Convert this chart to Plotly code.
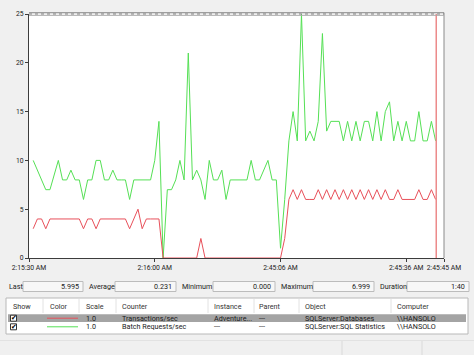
import plotly.graph_objects as go

# ---------------- data ----------------
sample_index = list(range(1, 98))
batch_requests = [10, 9, 8, 7, 7, 8.5, 10, 8, 8, 9, 8, 8, 6, 8, 8, 10, 10, 8, 8, 9,
                  8, 8, 8, 6, 8, 8, 8, 8, 8, 10, 14, 0, 7, 7, 8, 10, 8, 21, 8, 9,
                  8, 6, 10, 8, 8, 9, 6, 8, 8, 8, 8, 8, 10, 8, 8, 9, 10, 8, 8, 1,
                  6, 12, 15, 12, 25, 12, 13, 12, 14, 23, 13, 14, 14, 14, 12, 14, 12, 14, 12, 14,
                  14, 12, 15, 12, 15, 16, 12, 14, 12, 14, 12, 12, 15, 12, 12, 14, 12]
transactions = [3, 4, 4, 3, 4, 4, 4, 4, 4, 4, 4, 4, 3, 4, 4, 3, 4, 4, 4, 4,
                4, 4, 4, 3, 4, 5, 3, 4, 4, 4, 4, 0, 0, 0, 0, 0, 0, 0, 0, 0,
                2, 0, 0, 0, 0, 0, 0, 0, 0, 0, 0, 0, 0, 0, 0, 0, 0, 0, 0, 0,
                2, 6, 7, 6, 7, 6, 6, 6, 7, 6, 7, 6, 7, 6, 7, 6, 7, 6, 7, 6,
                7, 6, 7, 6, 7, 6, 6, 7, 6, 6, 6, 6, 7, 6, 6, 7, 6]

x_tick_vals = [0, 30, 60, 90, 99]
x_tick_text = ["2:15:30 AM", "2:16:00 AM", "2:45:06 AM", "2:45:36 AM", "2:45:45 AM"]
y_tick_vals = [0, 5, 10, 15, 20, 25]

stat_labels = ["Last", "Average", "Minimum", "Maximum", "Duration"]
stat_values = ["5.995", "0.231", "0.000", "6.999", "1:40"]

table_headers = ["Show", "Color", "Scale", "Counter", "Instance", "Parent", "Object", "Computer"]
counter_names = ["Transactions/sec", "Batch Requests/sec"]
counter_scales = ["1.0", "1.0"]
counter_instances = ["Adventure...", "---"]
counter_parents = ["---", "---"]
counter_objects = ["SQLServer:Databases", "SQLServer:SQL Statistics"]
counter_computers = ["\\\\HANSOLO", "\\\\HANSOLO"]

RED = "#e8505a"
GREEN = "#55e055"
FONT = "Segoe UI, Roboto, Noto Sans, DejaVu Sans, sans-serif"
FS = 7.2
TICK_FS = 6.8

# ---------------- geometry helpers (pixel -> paper) ----------------
W, H = 474, 355
L, R, T, B = 29, 30, 14, 97
PW, PH = W - L - R, H - T - B


def px(x):
    return (x - L) / PW


def py(y):
    return (H - B - y) / PH


fig = go.Figure()
fig.add_trace(go.Scatter(x=sample_index, y=batch_requests, mode="lines",
                         line=dict(color=GREEN, width=1), name=counter_names[1],
                         hoverinfo="skip"))
fig.add_trace(go.Scatter(x=sample_index, y=transactions, mode="lines",
                         line=dict(color=RED, width=1), name=counter_names[0],
                         hoverinfo="skip"))

shapes = []
annotations = []

# current-time bar
shapes.append(dict(type="line", xref="x", yref="paper", x0=sample_index[-1] + 0.15,
                   x1=sample_index[-1] + 0.15, y0=0, y1=1,
                   line=dict(color="#ec8a8a", width=1.5)))
# right border of graph
shapes.append(dict(type="line", xref="paper", yref="paper", x0=1, x1=1, y0=0, y1=py(12.7),
                   line=dict(color="#8a8a8a", width=1)))
# hatched top border
for yy, dash, col in [(12.7, "solid", "#8c8c8c"), (14.0, "dot", "#7a7a7a"), (15.3, "solid", "#a8a8a8")]:
    shapes.append(dict(type="line", xref="paper", yref="paper", x0=0, x1=1, y0=py(yy), y1=py(yy),
                       line=dict(color=col, width=1, dash=dash)))

# ---------------- statistics row ----------------
label_x = [7, 87, 180, 279, 378]
box_x0 = [23, 115, 213, 313, 407]
box_x1 = [83, 176, 275, 374, 469]
for lab, val, lx, b0, b1 in zip(stat_labels, stat_values, label_x, box_x0, box_x1):
    annotations.append(dict(xref="paper", yref="paper", x=px(lx), y=py(286.5), text=lab,
                            showarrow=False, xanchor="left", yanchor="middle",
                            font=dict(family=FONT, size=FS, color="#222222")))
    shapes.append(dict(type="rect", xref="paper", yref="paper", x0=px(b0), x1=px(b1),
                       y0=py(291.5), y1=py(281.5), fillcolor="#f7f7f7",
                       line=dict(color="#bcbcbc", width=1)))
    annotations.append(dict(xref="paper", yref="paper", x=px(b1 - 2), y=py(286.5), text=val,
                            showarrow=False, xanchor="right", yanchor="middle",
                            font=dict(family=FONT, size=FS, color="#222222")))

# ---------------- counter table ----------------
shapes.append(dict(type="rect", xref="paper", yref="paper", x0=px(6), x1=px(468),
                   y0=py(334), y1=py(298), fillcolor="#ffffff",
                   line=dict(color="#b8b8b8", width=1)))
col_x = [11, 48, 84, 120, 212, 257, 303, 395]
divider_x = [43, 79, 116, 208, 254, 299, 391]
for dx in divider_x:
    shapes.append(dict(type="line", xref="paper", yref="paper", x0=px(dx), x1=px(dx),
                       y0=py(299), y1=py(313), line=dict(color="#e2e2e2", width=1)))
for hx, htxt in zip(col_x, table_headers):
    annotations.append(dict(xref="paper", yref="paper", x=px(hx), y=py(306.5), text=htxt,
                            showarrow=False, xanchor="left", yanchor="middle",
                            font=dict(family=FONT, size=FS, color="#333333")))
# selected row band
shapes.append(dict(type="rect", xref="paper", yref="paper", x0=px(8), x1=px(466),
                   y0=py(322), y1=py(314.3), fillcolor="#a4a4a4", line=dict(width=0)))

row_y = [318.2, 326.8]
row_colors = [RED, GREEN]
for i, ry in enumerate(row_y):
    # checkbox
    shapes.append(dict(type="rect", xref="paper", yref="paper", x0=px(10.5), x1=px(16.5),
                       y0=py(ry + 3), y1=py(ry - 3), fillcolor="#ffffff",
                       line=dict(color="#333333", width=1)))
    annotations.append(dict(xref="paper", yref="paper", x=px(13.6), y=py(ry - 0.3), text="<b>✔</b>",
                            showarrow=False, xanchor="center", yanchor="middle",
                            font=dict(family="DejaVu Sans", size=7, color="#000000")))
    # colour sample
    shapes.append(dict(type="line", xref="paper", yref="paper", x0=px(47), x1=px(78),
                       y0=py(ry), y1=py(ry), line=dict(color=row_colors[i], width=1)))
    cells = [counter_scales[i], counter_names[i], counter_instances[i], counter_parents[i],
             counter_objects[i], counter_computers[i]]
    for cx, ct in zip(col_x[2:], cells):
        annotations.append(dict(xref="paper", yref="paper", x=px(cx), y=py(ry), text=ct,
                                showarrow=False, xanchor="left", yanchor="middle",
                                font=dict(family=FONT, size=FS, color="#1a1a1a")))

# status bar
shapes.append(dict(type="line", xref="paper", yref="paper", x0=px(0), x1=px(474),
                   y0=py(340.5), y1=py(340.5), line=dict(color="#e2e2e2", width=1)))
for sx in [342, 422]:
    shapes.append(dict(type="line", xref="paper", yref="paper", x0=px(sx), x1=px(sx),
                       y0=py(341), y1=py(355), line=dict(color="#dadada", width=1)))

fig.update_layout(
    width=W, height=H, autosize=False,
    margin=dict(l=L, r=R, t=T, b=B, pad=0),
    paper_bgcolor="#f0f0f0", plot_bgcolor="#ffffff",
    showlegend=False,
    font=dict(family=FONT, size=FS, color="#222222"),
    xaxis=dict(range=[0, 99], tickmode="array", tickvals=x_tick_vals, ticktext=x_tick_text,
               showgrid=False, zeroline=False, showline=True, linecolor="#3c3c3c", linewidth=1,
               ticks="outside", ticklen=3, tickcolor="#3c3c3c", tickangle=0, automargin=False,
               tickfont=dict(family=FONT, size=TICK_FS, color="#222222"), fixedrange=True),
    yaxis=dict(range=[0, 25], tickmode="array", tickvals=y_tick_vals, automargin=False,
               showgrid=False, zeroline=False, showline=True, linecolor="#3c3c3c", linewidth=1,
               ticks="outside", ticklen=3, tickcolor="#3c3c3c",
               tickfont=dict(family=FONT, size=TICK_FS, color="#222222"), fixedrange=True),
    shapes=shapes,
    annotations=annotations,
)

fig.write_html("out.html", config={"displayModeBar": False},
               post_script="document.body.style.margin='0';document.body.style.padding='0';"
                           "document.body.style.overflow='hidden';")
